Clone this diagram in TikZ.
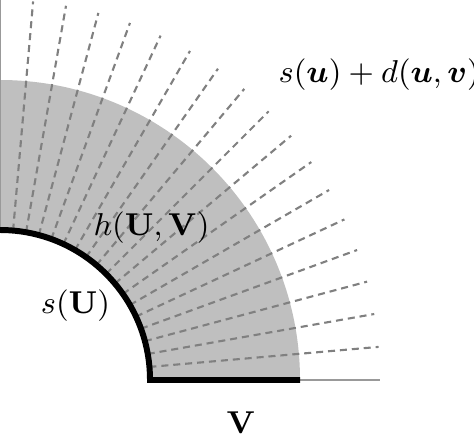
\documentclass[tikz,border=0pt]{standalone}
\usepackage{amsmath}
\usepackage{bm}
\begin{document}
\begin{tikzpicture}[
	% Define the styles for the ring, the rays and the boundary
	every node/.style={font=\small},
	region/.style={fill=black!25, draw=none},
	ray/.style={gray, line width=0.6pt, dash pattern=on 2pt off 1.4pt},
	edgeray/.style={black!40, line width=0.5pt},
	boundary/.style={black, line width=1.7pt}
	]
	
	% --- VISIBLE WINDOW ---
	\clip (0,-0.56) rectangle (4.74,3.80);
	
	% --- SHADED RING ---
	\fill[region] (0,1.5) arc (90:0:1.5) -- (3,0) arc (0:90:3) -- cycle;
	
	% --- RAYS ---
	% Format: one dashed ray every 5 degrees, solid ones at the ends.
	\foreach \a in {5,10,...,85}
		\draw[ray] (\a:1.5) -- (\a:3.8);
	\draw[edgeray] (0:1.5) -- (0:3.8);
	\draw[edgeray] (90:1.5) -- (90:3.8);
	
	% --- BOUNDARY ---
	\draw[boundary] (0,1.5) arc (90:0:1.5) -- (3,0);
	
	% --- LABELS ---
	\node (hUV) at (1.515,1.525) {$h(\mathbf{U},\mathbf{V})$};
	\node (sU) at (0.755,0.745) {$s(\mathbf{U})$};
	\node[anchor=west, inner sep=0pt] (sudv) at (2.78,3.05) {$s(\bm{u})+d(\bm{u},\bm{v})$};
	\node (V) at (2.41,-0.43) {$\mathbf{V}$};
	
\end{tikzpicture}
\end{document}
